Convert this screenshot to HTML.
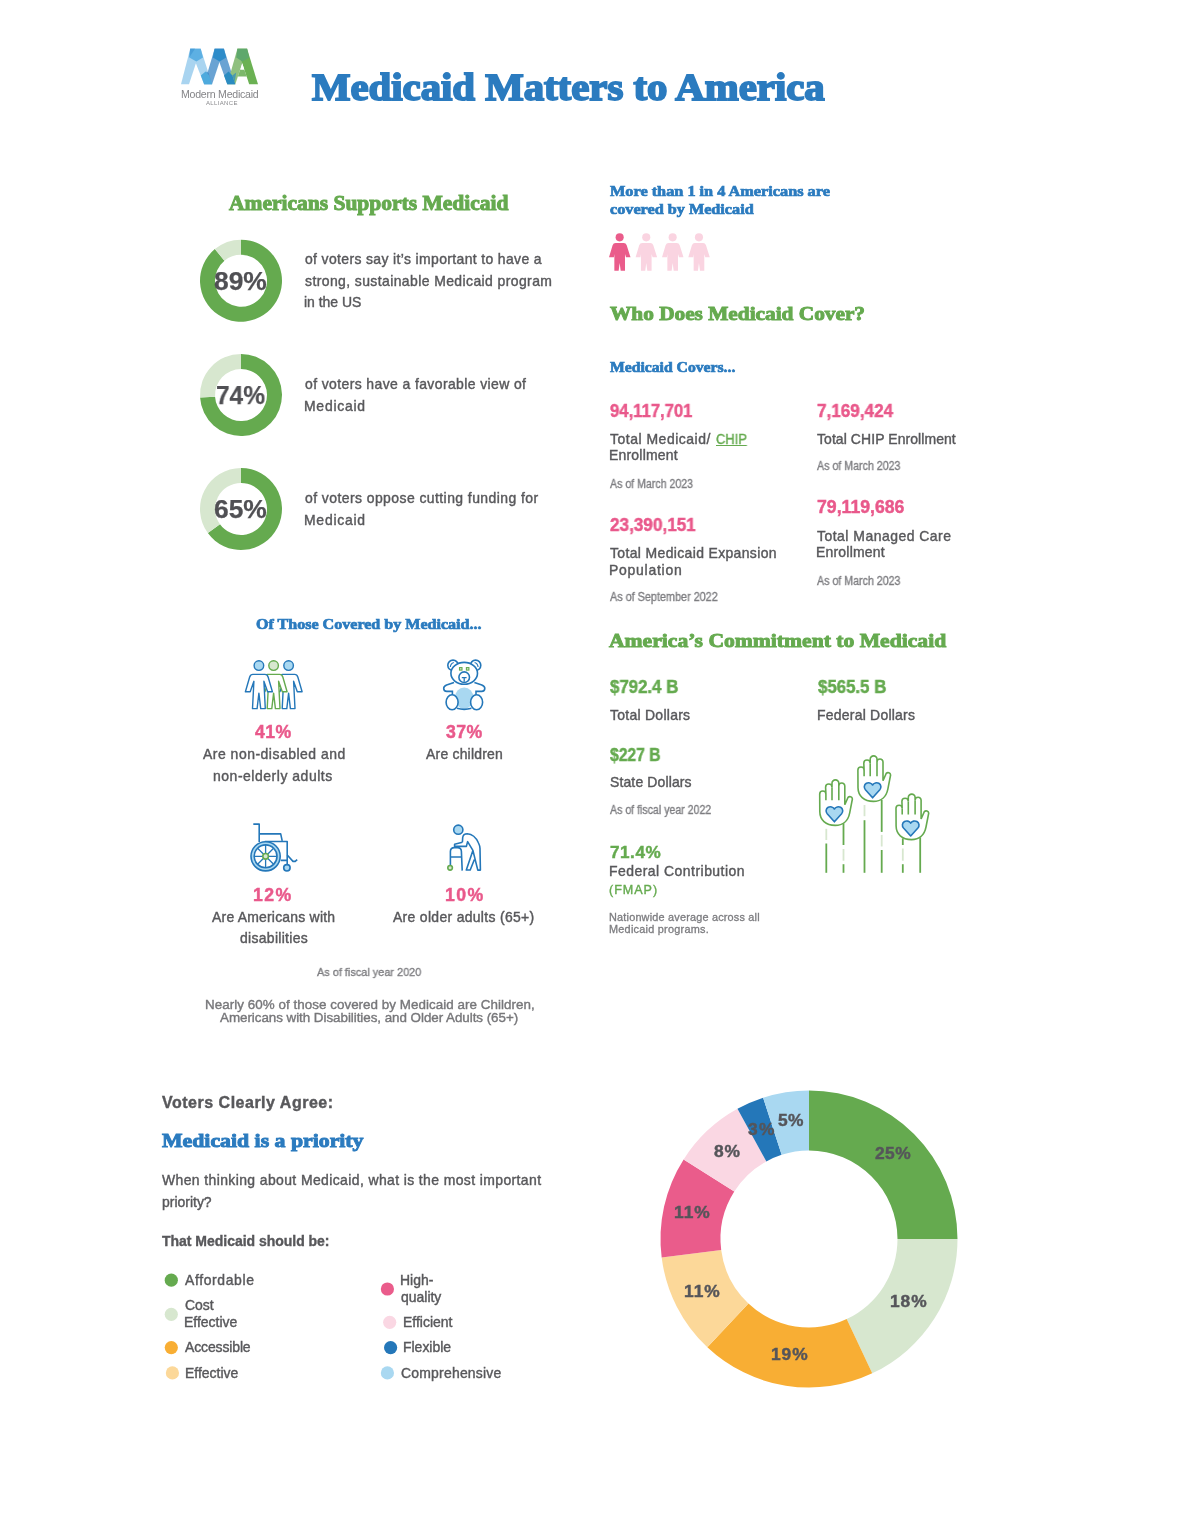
<!DOCTYPE html>
<html><head><meta charset="utf-8"><title>Medicaid Matters to America</title>
<style>
html,body{margin:0;padding:0;background:#fff;}
body{width:1187px;height:1536px;position:relative;overflow:hidden;}
.t{position:absolute;white-space:nowrap;will-change:transform;}
svg.bg{position:absolute;left:0;top:0;}
</style></head><body>
<svg class="bg" width="1187" height="1536" viewBox="0 0 1187 1536">
<path d="M241.00,239.70A41,41 0 1 1 214.87,249.11L224.43,260.67A26,26 0 1 0 241.00,254.70Z" fill="#65aa4f"/>
<path d="M214.87,249.11A41,41 0 0 1 241.00,239.70L241.00,254.70A26,26 0 0 0 224.43,260.67Z" fill="#d7e7cf"/>
<path d="M241.00,354.00A41,41 0 1 1 200.08,397.57L215.05,396.63A26,26 0 1 0 241.00,369.00Z" fill="#65aa4f"/>
<path d="M200.08,397.57A41,41 0 0 1 241.00,354.00L241.00,369.00A26,26 0 0 0 215.05,396.63Z" fill="#d7e7cf"/>
<path d="M241.00,468.00A41,41 0 1 1 207.83,533.10L219.97,524.28A26,26 0 1 0 241.00,483.00Z" fill="#65aa4f"/>
<path d="M207.83,533.10A41,41 0 0 1 241.00,468.00L241.00,483.00A26,26 0 0 0 219.97,524.28Z" fill="#d7e7cf"/>
<path d="M809.00,1090.50A148.5,148.5 0 0 1 957.50,1239.00L897.50,1239.00A88.5,88.5 0 0 0 809.00,1150.50Z" fill="#65aa4f"/>
<path d="M957.50,1239.00A148.5,148.5 0 0 1 872.23,1373.37L846.68,1319.08A88.5,88.5 0 0 0 897.50,1239.00Z" fill="#d7e7cf"/>
<path d="M872.23,1373.37A148.5,148.5 0 0 1 707.34,1347.25L748.42,1303.51A88.5,88.5 0 0 0 846.68,1319.08Z" fill="#f8ae34"/>
<path d="M707.34,1347.25A148.5,148.5 0 0 1 661.67,1257.61L721.20,1250.09A88.5,88.5 0 0 0 748.42,1303.51Z" fill="#fcd899"/>
<path d="M661.67,1257.61A148.5,148.5 0 0 1 683.62,1159.43L734.28,1191.58A88.5,88.5 0 0 0 721.20,1250.09Z" fill="#ea5c8b"/>
<path d="M683.62,1159.43A148.5,148.5 0 0 1 737.46,1108.87L766.36,1161.45A88.5,88.5 0 0 0 734.28,1191.58Z" fill="#fad7e3"/>
<path d="M737.46,1108.87A148.5,148.5 0 0 1 763.11,1097.77L781.65,1154.83A88.5,88.5 0 0 0 766.36,1161.45Z" fill="#2477b9"/>
<path d="M763.11,1097.77A148.5,148.5 0 0 1 809.00,1090.50L809.00,1150.50A88.5,88.5 0 0 0 781.65,1154.83Z" fill="#a9d8f1"/>
<!-- logo -->
<g>
<polygon points="181,84.2 189,84.2 200.7,48.8 190.2,48.8" fill="#a9d4f0"/>
<polygon points="190.2,48.8 200.7,48.8 212.1,84.2 204.1,84.2" fill="#a9d4f0"/>
<polygon points="204.1,84.2 212.1,84.2 223.9,48.8 214.6,48.8" fill="#6aa3d3"/>
<polygon points="214.6,48.8 223.9,48.8 235.3,84.2 227.3,84.2" fill="#6aa3d3"/>
<polygon points="227.3,84.2 235.3,84.2 247.1,48.8 237.4,48.8" fill="#90c07f"/>
<polygon points="237.4,48.8 247.1,48.8 258,84.2 249.2,84.2" fill="#6bb153"/>
<polygon points="190.2,48.8 200.7,48.8 203,57.5 196.4,61.5 189.3,57.5" fill="#5db0e3"/>
<polygon points="200.8,75.5 205.6,71.5 209.2,75.5 212.1,84.2 204.1,84.2" fill="#4eaadd"/>
<polygon points="214.6,48.8 223.9,48.8 226.2,57.5 219.6,61.5 212.8,57.5" fill="#2e8cc9"/>
<polygon points="224,75.5 228.6,71.5 232.4,75.5 235.3,84.2 227.3,84.2" fill="#2b8cc1"/>
<polygon points="237.4,48.8 247.1,48.8 249.2,57.5 242.4,61.5 236.2,57.5" fill="#5fa86c"/>
<polygon points="190.2,48.8 195,48.8 189.3,57.5" fill="#4a9fd9"/>
<polygon points="205.6,71.5 209.2,75.5 211.2,81.5 208.6,72.8" fill="#3f8fce"/>
<polygon points="232.4,75.5 236.2,72.5 234.6,82" fill="#4a9aae"/>
<polygon points="240.2,69.5 244.3,69.5 246.7,76.6 237.8,76.6" fill="#7cb86a"/>
<polygon points="240.4,69.5 244.2,69.5 242.3,63.2" fill="#fff"/>
</g>
<!-- people -->
<g id="ppl">
<defs><g id="kid"><circle cx="10.66" cy="4.15" r="4.05"/><path d="M6.6,9.7 L14.7,9.7 Q16.9,9.7 17.7,12 L21.5,24.1 L17,24.1 L16,20.8 L16,37.5 L11.7,37.5 L10.66,29.7 L9.65,37.5 L5.35,37.5 L5.35,20.8 L4.85,24.1 L0,24.1 L3.6,12 Q4.4,9.7 6.6,9.7 Z"/></g></defs>
<use href="#kid" x="609" y="233.2" fill="#ea5c8b"/>
<use href="#kid" x="635.6" y="233.2" fill="#fad4e1"/>
<use href="#kid" x="662" y="233.2" fill="#fad4e1"/>
<use href="#kid" x="688.3" y="233.2" fill="#fad4e1"/>
</g>
<!-- 3 persons -->
<defs><path id="prs" d="M-6.4,43 L-1.8,43 L0,27.5 L1.8,43 L6.4,43 L5,15.7 L8.7,26.2 L13.5,26.2 L9.3,11.6 Q8.4,8.8 6,8.8 L-6,8.8 Q-8.4,8.8 -9.3,11.6 L-13.5,26.2 L-8.7,26.2 L-5,15.7 Z"/></defs>
<g stroke-width="1.4" stroke-linejoin="round">
<g transform="translate(288.6,665.6)" stroke="#2477b9"><use href="#prs" fill="#fff"/><circle r="4.8" fill="#a9d8f1"/></g>
<g transform="translate(273.6,665.6)" stroke="#65aa4f"><use href="#prs" fill="#fff"/><circle r="4.8" fill="#d7e7cf"/></g>
<g transform="translate(258.9,665.6)" stroke="#2477b9"><use href="#prs" fill="#fff"/><circle r="4.8" fill="#a9d8f1"/></g>
</g>
<!-- teddy -->
<g stroke="#2477b9" stroke-width="1.6" fill="#fff">
<path d="M454,682.6 L446.6,685 Q443.7,686.2 443.7,688.3 Q443.7,691.4 446.8,691.4 L452.4,691.4 L452.4,695 M474.4,682.6 L481.8,685 Q484.8,686.2 484.8,688.3 Q484.8,691.4 481.6,691.4 L476,691.4 L476,695" fill="none"/>
<ellipse cx="464.2" cy="698.2" rx="9.4" ry="10.8" fill="#a9d8f1" stroke="none"/>
<path d="M457,708.3 Q464.2,710.5 471.4,708.3" fill="none"/>
<ellipse cx="452.1" cy="702.2" rx="6" ry="7.5"/>
<ellipse cx="476.6" cy="702.2" rx="6" ry="7.5"/>
<circle cx="453" cy="665.3" r="5.2"/>
<circle cx="475.6" cy="665.3" r="5.2"/>
<ellipse cx="464.2" cy="673.3" rx="13.3" ry="10.9"/>
<path d="M450.3,667 Q450.6,663.4 453.8,662.4 M478.1,667 Q477.8,663.4 474.6,662.4" fill="none" stroke-width="1.1"/>
<circle cx="464.2" cy="677.2" r="5.3"/>
<path d="M461.8,677.6 L466.6,677.6 M464.2,677.6 L464.2,681.8" fill="none" stroke-width="1.3"/>
<rect x="459.5" y="667.6" width="2.5" height="2.5" fill="#d7e7cf" stroke="#65aa4f" stroke-width="1.1"/>
<rect x="466.4" y="667.6" width="2.5" height="2.5" fill="#d7e7cf" stroke="#65aa4f" stroke-width="1.1"/>
</g>
<!-- wheelchair -->
<g stroke="#2477b9" stroke-width="1.6" fill="none" stroke-linejoin="round">
<polyline points="253.3,824.1 259.2,824.1 259.2,842.1"/>
<polyline points="259.2,833.9 280.7,833.9 282.2,840.9"/>
<polyline points="264.8,841.5 287.2,841.5 287.2,860.4 280.7,860.4"/>
<polyline points="287.2,855 293,861.4 295.2,861.4 297.2,859.6"/>
<line x1="287.2" y1="860.4" x2="287.2" y2="864.5"/>
<circle cx="265.6" cy="856.3" r="13" stroke="#a9d8f1" stroke-width="3"/>
<circle cx="265.6" cy="856.3" r="14.6"/>
<circle cx="265.6" cy="856.3" r="11.4"/>
<path d="M265.6,845 L265.6,867.6 M254.3,856.3 L276.9,856.3 M257.6,848.3 L273.6,864.3 M273.6,848.3 L257.6,864.3" stroke-width="1.3"/>
<circle cx="265.6" cy="856.3" r="2.8" fill="#d7e7cf" stroke="#65aa4f"/>
<circle cx="286.9" cy="867.8" r="3.2" fill="#a9d8f1"/>
</g>
<!-- walker -->
<g stroke="#2477b9" stroke-width="1.6" fill="none" stroke-linejoin="round">
<circle cx="458.3" cy="829.7" r="4.6" fill="#a9d8f1"/>
<path d="M462.4,842.3 L462.7,837.5 Q463.2,833.8 467.3,833.8 Q474.5,834.2 478.5,843 Q480,846 480,848.5 L480.4,870.1 L477.8,870.1 L472.9,850.4 L467.6,841.6 L466.4,846.4 L454.6,846.4 L454.6,844.2 L462.4,842.3 M472.9,850.4 L466.3,870 L470.2,870 L474.4,859.5"/>
<path d="M450.4,865 L450.4,851.6 Q450.4,847.6 454.4,847.6 L457.4,847.6 Q461.4,847.6 461.4,851.6 L462.2,870.6 M450.4,857 L461.6,857"/>
<circle cx="450.1" cy="867.8" r="2.3" fill="#d7e7cf" stroke="#65aa4f"/>
</g>
<!-- hands -->
<defs><g id="hand">
<path d="M1,14.3 A3.1,3.1 0 0 1 7.2,14.3 L6.9,7.4 A3.2,3.2 0 0 1 13.3,7.4 L13.3,3.5 A3.4,3.4 0 0 1 20.1,3.5 L20.1,6.2 A3,3 0 0 1 26.1,6.2 L26.1,25 L29.3,17.6 A2.6,2.6 0 0 1 33.7,19.2 L31,33 C29.5,41 24,45.6 16.5,45.6 C7,45.6 1.2,40 1.1,32 Z" fill="#fff" stroke="#65aa4f" stroke-width="1.6"/>
<path d="M7.2,14.3 L7.2,20.5 M13.3,7.4 L13.3,20.5 M20.1,6.2 L20.1,20.5" fill="none" stroke="#65aa4f" stroke-width="1.6"/>
<path d="M15.7,29.2 C14.5,27 11.5,26.5 9.5,27.5 C7,29 6.8,32 8.5,34 L15.7,42 L22.9,34 C24.6,32 24.4,29 21.9,27.5 C19.9,26.5 16.9,27 15.7,29.2 Z" fill="#a9d8f1" stroke="#2477b9" stroke-width="1.6" stroke-linejoin="round"/>
</g></defs>
<use href="#hand" x="818.7" y="779.8"/>
<use href="#hand" x="856.9" y="755.8"/>
<use href="#hand" x="895" y="794"/>
<g stroke-width="1.8">
<line x1="826.3" y1="828.8" x2="826.3" y2="840" stroke="#d7e7cf"/>
<line x1="826.3" y1="843.5" x2="826.3" y2="872.8" stroke="#65aa4f"/>
<line x1="843.5" y1="823.3" x2="843.5" y2="845" stroke="#65aa4f"/>
<line x1="843.5" y1="849" x2="843.5" y2="860.7" stroke="#d7e7cf"/>
<line x1="843.5" y1="864.2" x2="843.5" y2="872.8" stroke="#65aa4f"/>
<line x1="864.5" y1="805" x2="864.5" y2="816.2" stroke="#d7e7cf"/>
<line x1="864.5" y1="820.2" x2="864.5" y2="872.8" stroke="#65aa4f"/>
<line x1="881.7" y1="800" x2="881.7" y2="831.9" stroke="#65aa4f"/>
<line x1="881.7" y1="834.9" x2="881.7" y2="846.5" stroke="#d7e7cf"/>
<line x1="881.7" y1="850" x2="881.7" y2="872.8" stroke="#65aa4f"/>
<line x1="902.8" y1="838.4" x2="902.8" y2="845" stroke="#65aa4f"/>
<line x1="902.8" y1="848.5" x2="902.8" y2="860.7" stroke="#d7e7cf"/>
<line x1="902.8" y1="864.2" x2="902.8" y2="872.8" stroke="#65aa4f"/>
<line x1="920.2" y1="837.4" x2="920.2" y2="872.8" stroke="#65aa4f"/>
</g>
<!-- legend dots -->
<circle cx="171.3" cy="1280.2" r="6.6" fill="#65aa4f"/>
<circle cx="171.3" cy="1314.3" r="6.6" fill="#d7e7cf"/>
<circle cx="171.3" cy="1347.6" r="6.6" fill="#f8ae34"/>
<circle cx="172.4" cy="1372.9" r="6.6" fill="#fcd899"/>
<circle cx="387.4" cy="1289" r="6.6" fill="#ea5c8b"/>
<circle cx="389.7" cy="1322.3" r="6.6" fill="#fad7e3"/>
<circle cx="390.6" cy="1347.6" r="6.6" fill="#2477b9"/>
<circle cx="387.4" cy="1372.9" r="6.6" fill="#a9d8f1"/>

</svg>
<div class="t" style="left:180.5px;top:89px;font-family:'Liberation Sans',sans-serif;font-size:10.6px;line-height:11px;letter-spacing:-0.25px;color:#858588">Modern Medicaid</div>
<div class="t" style="left:206px;top:99.5px;font-family:'Liberation Sans',sans-serif;font-size:6px;line-height:7px;letter-spacing:0.35px;color:#8a8a8d">ALLIANCE</div>
<div class="t" style="left:214.49px;top:267.63px;font-family:'Liberation Sans',sans-serif;font-weight:bold;font-size:26.20px;line-height:26.20px;letter-spacing:0.000px;color:#505054;-webkit-text-stroke:0.25px #505054;transform:scaleX(1.0077);transform-origin:0 0;">89%</div>
<div class="t" style="left:216.20px;top:381.83px;font-family:'Liberation Sans',sans-serif;font-weight:bold;font-size:26.20px;line-height:26.20px;letter-spacing:0.000px;color:#505054;-webkit-text-stroke:0.25px #505054;transform:scaleX(0.9337);transform-origin:0 0;">74%</div>
<div class="t" style="left:214.49px;top:495.93px;font-family:'Liberation Sans',sans-serif;font-weight:bold;font-size:26.20px;line-height:26.20px;letter-spacing:0.000px;color:#505054;-webkit-text-stroke:0.25px #505054;transform:scaleX(1.0077);transform-origin:0 0;">65%</div>
<div class="t" style="left:311.50px;top:69.19px;font-family:'Liberation Serif',serif;font-weight:bold;font-size:37.02px;line-height:37.02px;letter-spacing:0.000px;color:#2b7bbf;-webkit-text-stroke:1.79px #2b7bbf;transform:scaleX(1.1011);transform-origin:0 0;">Medicaid Matters to America</div>
<div class="t" style="left:228.80px;top:192.81px;font-family:'Liberation Serif',serif;font-weight:bold;font-size:20.36px;line-height:20.36px;letter-spacing:0.000px;color:#65aa4f;-webkit-text-stroke:0.98px #65aa4f;transform:scaleX(1.0556);transform-origin:0 0;">Americans Supports Medicaid</div>
<div class="t" style="left:305.40px;top:252.93px;font-family:'Liberation Sans',sans-serif;font-weight:normal;font-size:13.96px;line-height:13.96px;letter-spacing:0.364px;color:#58585b;-webkit-text-stroke:0.41px #58585b;">of voters say it’s important to have a</div>
<div class="t" style="left:305.40px;top:274.73px;font-family:'Liberation Sans',sans-serif;font-weight:normal;font-size:13.96px;line-height:13.96px;letter-spacing:0.408px;color:#58585b;-webkit-text-stroke:0.41px #58585b;">strong, sustainable Medicaid program</div>
<div class="t" style="left:304.40px;top:295.93px;font-family:'Liberation Sans',sans-serif;font-weight:normal;font-size:13.96px;line-height:13.96px;letter-spacing:0.000px;color:#58585b;-webkit-text-stroke:0.41px #58585b;">in the US</div>
<div class="t" style="left:305.40px;top:378.43px;font-family:'Liberation Sans',sans-serif;font-weight:normal;font-size:13.96px;line-height:13.96px;letter-spacing:0.398px;color:#58585b;-webkit-text-stroke:0.41px #58585b;">of voters have a favorable view of</div>
<div class="t" style="left:304.40px;top:399.83px;font-family:'Liberation Sans',sans-serif;font-weight:normal;font-size:13.96px;line-height:13.96px;letter-spacing:0.750px;color:#58585b;-webkit-text-stroke:0.41px #58585b;">Medicaid</div>
<div class="t" style="left:305.40px;top:492.13px;font-family:'Liberation Sans',sans-serif;font-weight:normal;font-size:13.96px;line-height:13.96px;letter-spacing:0.432px;color:#58585b;-webkit-text-stroke:0.41px #58585b;">of voters oppose cutting funding for</div>
<div class="t" style="left:304.40px;top:514.03px;font-family:'Liberation Sans',sans-serif;font-weight:normal;font-size:13.96px;line-height:13.96px;letter-spacing:0.750px;color:#58585b;-webkit-text-stroke:0.41px #58585b;">Medicaid</div>
<div class="t" style="left:255.70px;top:617.17px;font-family:'Liberation Serif',serif;font-weight:bold;font-size:14.24px;line-height:14.24px;letter-spacing:0.000px;color:#2b7bbf;-webkit-text-stroke:0.69px #2b7bbf;transform:scaleX(1.1281);transform-origin:0 0;">Of Those Covered by Medicaid...</div>
<div class="t" style="left:255.35px;top:724.05px;font-family:'Liberation Sans',sans-serif;font-weight:bold;font-size:17.67px;line-height:17.67px;letter-spacing:0.397px;color:#e9598b;-webkit-text-stroke:0.46px #e9598b;">41%</div>
<div class="t" style="left:202.60px;top:747.53px;font-family:'Liberation Sans',sans-serif;font-weight:normal;font-size:13.96px;line-height:13.96px;letter-spacing:0.506px;color:#58585b;-webkit-text-stroke:0.41px #58585b;">Are non-disabled and</div>
<div class="t" style="left:213.40px;top:769.73px;font-family:'Liberation Sans',sans-serif;font-weight:normal;font-size:13.96px;line-height:13.96px;letter-spacing:0.535px;color:#58585b;-webkit-text-stroke:0.41px #58585b;">non-elderly adults</div>
<div class="t" style="left:446.05px;top:724.05px;font-family:'Liberation Sans',sans-serif;font-weight:bold;font-size:17.67px;line-height:17.67px;letter-spacing:0.397px;color:#e9598b;-webkit-text-stroke:0.46px #e9598b;">37%</div>
<div class="t" style="left:426.00px;top:747.53px;font-family:'Liberation Sans',sans-serif;font-weight:normal;font-size:13.96px;line-height:13.96px;letter-spacing:0.212px;color:#58585b;-webkit-text-stroke:0.41px #58585b;">Are children</div>
<div class="t" style="left:253.35px;top:887.45px;font-family:'Liberation Sans',sans-serif;font-weight:bold;font-size:17.67px;line-height:17.67px;letter-spacing:1.397px;color:#e9598b;-webkit-text-stroke:0.46px #e9598b;">12%</div>
<div class="t" style="left:212.00px;top:911.13px;font-family:'Liberation Sans',sans-serif;font-weight:normal;font-size:13.96px;line-height:13.96px;letter-spacing:0.213px;color:#58585b;-webkit-text-stroke:0.41px #58585b;">Are Americans with</div>
<div class="t" style="left:239.55px;top:932.33px;font-family:'Liberation Sans',sans-serif;font-weight:normal;font-size:13.96px;line-height:13.96px;letter-spacing:0.304px;color:#58585b;-webkit-text-stroke:0.41px #58585b;">disabilities</div>
<div class="t" style="left:445.25px;top:887.45px;font-family:'Liberation Sans',sans-serif;font-weight:bold;font-size:17.67px;line-height:17.67px;letter-spacing:1.397px;color:#e9598b;-webkit-text-stroke:0.46px #e9598b;">10%</div>
<div class="t" style="left:393.40px;top:911.13px;font-family:'Liberation Sans',sans-serif;font-weight:normal;font-size:13.96px;line-height:13.96px;letter-spacing:0.315px;color:#58585b;-webkit-text-stroke:0.41px #58585b;">Are older adults (65+)</div>
<div class="t" style="left:316.85px;top:967.28px;font-family:'Liberation Sans',sans-serif;font-weight:normal;font-size:11.59px;line-height:11.59px;letter-spacing:0.000px;color:#7d7d80;-webkit-text-stroke:0.34px #7d7d80;transform:scaleX(0.9416);transform-origin:0 0;">As of fiscal year 2020</div>
<div class="t" style="left:205.30px;top:997.51px;font-family:'Liberation Sans',sans-serif;font-weight:normal;font-size:13.40px;line-height:13.40px;letter-spacing:0.043px;color:#77777a;-webkit-text-stroke:0.39px #77777a;">Nearly 60% of those covered by Medicaid are Children,</div>
<div class="t" style="left:220.00px;top:1011.01px;font-family:'Liberation Sans',sans-serif;font-weight:normal;font-size:13.40px;line-height:13.40px;letter-spacing:-0.043px;color:#77777a;-webkit-text-stroke:0.39px #77777a;">Americans with Disabilities, and Older Adults (65+)</div>
<div class="t" style="left:609.70px;top:183.97px;font-family:'Liberation Serif',serif;font-weight:bold;font-size:14.24px;line-height:14.24px;letter-spacing:0.000px;color:#2b7bbf;-webkit-text-stroke:0.69px #2b7bbf;transform:scaleX(1.1427);transform-origin:0 0;">More than 1 in 4 Americans are</div>
<div class="t" style="left:609.70px;top:201.57px;font-family:'Liberation Serif',serif;font-weight:bold;font-size:14.24px;line-height:14.24px;letter-spacing:0.000px;color:#2b7bbf;-webkit-text-stroke:0.69px #2b7bbf;transform:scaleX(1.1380);transform-origin:0 0;">covered by Medicaid</div>
<div class="t" style="left:609.70px;top:305.45px;font-family:'Liberation Serif',serif;font-weight:bold;font-size:18.79px;line-height:18.79px;letter-spacing:0.000px;color:#65aa4f;-webkit-text-stroke:0.91px #65aa4f;transform:scaleX(1.1343);transform-origin:0 0;">Who Does Medicaid Cover?</div>
<div class="t" style="left:609.80px;top:360.17px;font-family:'Liberation Serif',serif;font-weight:bold;font-size:14.24px;line-height:14.24px;letter-spacing:0.000px;color:#2b7bbf;-webkit-text-stroke:0.69px #2b7bbf;transform:scaleX(1.1011);transform-origin:0 0;">Medicaid Covers...</div>
<div class="t" style="left:610.00px;top:403.35px;font-family:'Liberation Sans',sans-serif;font-weight:bold;font-size:17.67px;line-height:17.67px;letter-spacing:0.000px;color:#e9598b;-webkit-text-stroke:0.46px #e9598b;transform:scaleX(0.9436);transform-origin:0 0;">94,117,701</div>
<div class="t" style="left:610.00px;top:432.53px;font-family:'Liberation Sans',sans-serif;font-weight:normal;font-size:13.96px;line-height:13.96px;letter-spacing:0.521px;color:#58585b;-webkit-text-stroke:0.41px #58585b;">Total Medicaid/</div>
<div class="t" style="left:716.00px;top:432.53px;font-family:'Liberation Sans',sans-serif;font-weight:normal;font-size:13.96px;line-height:13.96px;letter-spacing:0.000px;color:#65aa4f;-webkit-text-stroke:0.41px #65aa4f;transform:scaleX(0.9277);transform-origin:0 0;text-decoration:underline;">CHIP</div>
<div class="t" style="left:609.00px;top:449.43px;font-family:'Liberation Sans',sans-serif;font-weight:normal;font-size:13.96px;line-height:13.96px;letter-spacing:0.214px;color:#58585b;-webkit-text-stroke:0.41px #58585b;">Enrollment</div>
<div class="t" style="left:610.00px;top:478.74px;font-family:'Liberation Sans',sans-serif;font-weight:normal;font-size:11.87px;line-height:11.87px;letter-spacing:0.000px;color:#7d7d80;-webkit-text-stroke:0.35px #7d7d80;transform:scaleX(0.8934);transform-origin:0 0;">As of March 2023</div>
<div class="t" style="left:610.00px;top:516.85px;font-family:'Liberation Sans',sans-serif;font-weight:bold;font-size:17.67px;line-height:17.67px;letter-spacing:0.000px;color:#e9598b;-webkit-text-stroke:0.46px #e9598b;transform:scaleX(0.9706);transform-origin:0 0;">23,390,151</div>
<div class="t" style="left:610.00px;top:546.83px;font-family:'Liberation Sans',sans-serif;font-weight:normal;font-size:13.96px;line-height:13.96px;letter-spacing:0.362px;color:#58585b;-webkit-text-stroke:0.41px #58585b;">Total Medicaid Expansion</div>
<div class="t" style="left:609.00px;top:564.03px;font-family:'Liberation Sans',sans-serif;font-weight:normal;font-size:13.96px;line-height:13.96px;letter-spacing:0.745px;color:#58585b;-webkit-text-stroke:0.41px #58585b;">Population</div>
<div class="t" style="left:610.00px;top:592.44px;font-family:'Liberation Sans',sans-serif;font-weight:normal;font-size:11.87px;line-height:11.87px;letter-spacing:0.000px;color:#7d7d80;-webkit-text-stroke:0.35px #7d7d80;transform:scaleX(0.9125);transform-origin:0 0;">As of September 2022</div>
<div class="t" style="left:817.40px;top:402.95px;font-family:'Liberation Sans',sans-serif;font-weight:bold;font-size:17.67px;line-height:17.67px;letter-spacing:0.000px;color:#e9598b;-webkit-text-stroke:0.46px #e9598b;transform:scaleX(0.9690);transform-origin:0 0;">7,169,424</div>
<div class="t" style="left:817.40px;top:433.03px;font-family:'Liberation Sans',sans-serif;font-weight:normal;font-size:13.96px;line-height:13.96px;letter-spacing:0.085px;color:#58585b;-webkit-text-stroke:0.41px #58585b;">Total CHIP Enrollment</div>
<div class="t" style="left:817.40px;top:461.44px;font-family:'Liberation Sans',sans-serif;font-weight:normal;font-size:11.87px;line-height:11.87px;letter-spacing:0.000px;color:#7d7d80;-webkit-text-stroke:0.35px #7d7d80;transform:scaleX(0.8978);transform-origin:0 0;">As of March 2023</div>
<div class="t" style="left:817.40px;top:499.45px;font-family:'Liberation Sans',sans-serif;font-weight:bold;font-size:17.67px;line-height:17.67px;letter-spacing:0.000px;color:#e9598b;-webkit-text-stroke:0.46px #e9598b;transform:scaleX(0.9999);transform-origin:0 0;">79,119,686</div>
<div class="t" style="left:817.40px;top:530.03px;font-family:'Liberation Sans',sans-serif;font-weight:normal;font-size:13.96px;line-height:13.96px;letter-spacing:0.489px;color:#58585b;-webkit-text-stroke:0.41px #58585b;">Total Managed Care</div>
<div class="t" style="left:816.40px;top:546.43px;font-family:'Liberation Sans',sans-serif;font-weight:normal;font-size:13.96px;line-height:13.96px;letter-spacing:0.214px;color:#58585b;-webkit-text-stroke:0.41px #58585b;">Enrollment</div>
<div class="t" style="left:817.40px;top:575.64px;font-family:'Liberation Sans',sans-serif;font-weight:normal;font-size:11.87px;line-height:11.87px;letter-spacing:0.000px;color:#7d7d80;-webkit-text-stroke:0.35px #7d7d80;transform:scaleX(0.8978);transform-origin:0 0;">As of March 2023</div>
<div class="t" style="left:609.00px;top:631.01px;font-family:'Liberation Serif',serif;font-weight:bold;font-size:19.08px;line-height:19.08px;letter-spacing:0.000px;color:#65aa4f;-webkit-text-stroke:0.92px #65aa4f;transform:scaleX(1.1331);transform-origin:0 0;">America’s Commitment to Medicaid</div>
<div class="t" style="left:610.00px;top:678.73px;font-family:'Liberation Sans',sans-serif;font-weight:bold;font-size:17.81px;line-height:17.81px;letter-spacing:0.000px;color:#65aa4f;-webkit-text-stroke:0.46px #65aa4f;transform:scaleX(0.9451);transform-origin:0 0;">$792.4 B</div>
<div class="t" style="left:610.00px;top:708.53px;font-family:'Liberation Sans',sans-serif;font-weight:normal;font-size:13.96px;line-height:13.96px;letter-spacing:0.275px;color:#58585b;-webkit-text-stroke:0.41px #58585b;">Total Dollars</div>
<div class="t" style="left:817.70px;top:678.73px;font-family:'Liberation Sans',sans-serif;font-weight:bold;font-size:17.81px;line-height:17.81px;letter-spacing:0.000px;color:#65aa4f;-webkit-text-stroke:0.46px #65aa4f;transform:scaleX(0.9451);transform-origin:0 0;">$565.5 B</div>
<div class="t" style="left:816.70px;top:708.63px;font-family:'Liberation Sans',sans-serif;font-weight:normal;font-size:13.96px;line-height:13.96px;letter-spacing:0.236px;color:#58585b;-webkit-text-stroke:0.41px #58585b;">Federal Dollars</div>
<div class="t" style="left:610.00px;top:747.03px;font-family:'Liberation Sans',sans-serif;font-weight:bold;font-size:17.81px;line-height:17.81px;letter-spacing:0.000px;color:#65aa4f;-webkit-text-stroke:0.46px #65aa4f;transform:scaleX(0.8808);transform-origin:0 0;">$227 B</div>
<div class="t" style="left:610.00px;top:776.23px;font-family:'Liberation Sans',sans-serif;font-weight:normal;font-size:13.96px;line-height:13.96px;letter-spacing:0.139px;color:#58585b;-webkit-text-stroke:0.41px #58585b;">State Dollars</div>
<div class="t" style="left:610.00px;top:804.74px;font-family:'Liberation Sans',sans-serif;font-weight:normal;font-size:11.87px;line-height:11.87px;letter-spacing:0.000px;color:#7d7d80;-webkit-text-stroke:0.35px #7d7d80;transform:scaleX(0.8928);transform-origin:0 0;">As of fiscal year 2022</div>
<div class="t" style="left:610.00px;top:844.38px;font-family:'Liberation Sans',sans-serif;font-weight:bold;font-size:17.11px;line-height:17.11px;letter-spacing:0.537px;color:#65aa4f;-webkit-text-stroke:0.44px #65aa4f;">71.4%</div>
<div class="t" style="left:609.00px;top:864.83px;font-family:'Liberation Sans',sans-serif;font-weight:normal;font-size:13.96px;line-height:13.96px;letter-spacing:0.480px;color:#58585b;-webkit-text-stroke:0.41px #58585b;">Federal Contribution</div>
<div class="t" style="left:609.00px;top:883.74px;font-family:'Liberation Sans',sans-serif;font-weight:normal;font-size:12.57px;line-height:12.57px;letter-spacing:0.977px;color:#65aa4f;-webkit-text-stroke:0.37px #65aa4f;">(FMAP)</div>
<div class="t" style="left:609.00px;top:911.68px;font-family:'Liberation Sans',sans-serif;font-weight:normal;font-size:10.89px;line-height:10.89px;letter-spacing:0.198px;color:#7d7d80;-webkit-text-stroke:0.32px #7d7d80;">Nationwide average across all</div>
<div class="t" style="left:609.00px;top:924.28px;font-family:'Liberation Sans',sans-serif;font-weight:normal;font-size:10.89px;line-height:10.89px;letter-spacing:0.253px;color:#7d7d80;-webkit-text-stroke:0.32px #7d7d80;">Medicaid programs.</div>
<div class="t" style="left:162.20px;top:1095.20px;font-family:'Liberation Sans',sans-serif;font-weight:bold;font-size:15.99px;line-height:15.99px;letter-spacing:0.511px;color:#58585b;-webkit-text-stroke:0.41px #58585b;">Voters Clearly Agree:</div>
<div class="t" style="left:161.60px;top:1130.80px;font-family:'Liberation Serif',serif;font-weight:bold;font-size:19.79px;line-height:19.79px;letter-spacing:0.000px;color:#2b7bbf;-webkit-text-stroke:0.96px #2b7bbf;transform:scaleX(1.1014);transform-origin:0 0;">Medicaid is a priority</div>
<div class="t" style="left:162.00px;top:1174.43px;font-family:'Liberation Sans',sans-serif;font-weight:normal;font-size:13.96px;line-height:13.96px;letter-spacing:0.391px;color:#58585b;-webkit-text-stroke:0.41px #58585b;">When thinking about Medicaid, what is the most important</div>
<div class="t" style="left:162.00px;top:1195.93px;font-family:'Liberation Sans',sans-serif;font-weight:normal;font-size:13.96px;line-height:13.96px;letter-spacing:0.000px;color:#58585b;-webkit-text-stroke:0.41px #58585b;">priority?</div>
<div class="t" style="left:162.00px;top:1233.80px;font-family:'Liberation Sans',sans-serif;font-weight:bold;font-size:14.03px;line-height:14.03px;letter-spacing:-0.030px;color:#58585b;-webkit-text-stroke:0.36px #58585b;">That Medicaid should be:</div>
<div class="t" style="left:185.00px;top:1274.03px;font-family:'Liberation Sans',sans-serif;font-weight:normal;font-size:13.96px;line-height:13.96px;letter-spacing:0.627px;color:#58585b;-webkit-text-stroke:0.41px #58585b;">Affordable</div>
<div class="t" style="left:185.00px;top:1299.23px;font-family:'Liberation Sans',sans-serif;font-weight:normal;font-size:13.96px;line-height:13.96px;letter-spacing:0.000px;color:#58585b;-webkit-text-stroke:0.41px #58585b;">Cost</div>
<div class="t" style="left:184.00px;top:1316.43px;font-family:'Liberation Sans',sans-serif;font-weight:normal;font-size:13.96px;line-height:13.96px;letter-spacing:0.000px;color:#58585b;-webkit-text-stroke:0.41px #58585b;">Effective</div>
<div class="t" style="left:185.00px;top:1341.43px;font-family:'Liberation Sans',sans-serif;font-weight:normal;font-size:13.96px;line-height:13.96px;letter-spacing:-0.119px;color:#58585b;-webkit-text-stroke:0.41px #58585b;">Accessible</div>
<div class="t" style="left:184.70px;top:1366.63px;font-family:'Liberation Sans',sans-serif;font-weight:normal;font-size:13.96px;line-height:13.96px;letter-spacing:0.000px;color:#58585b;-webkit-text-stroke:0.41px #58585b;">Effective</div>
<div class="t" style="left:399.70px;top:1274.03px;font-family:'Liberation Sans',sans-serif;font-weight:normal;font-size:13.96px;line-height:13.96px;letter-spacing:0.000px;color:#58585b;-webkit-text-stroke:0.41px #58585b;">High-</div>
<div class="t" style="left:400.70px;top:1290.83px;font-family:'Liberation Sans',sans-serif;font-weight:normal;font-size:13.96px;line-height:13.96px;letter-spacing:0.000px;color:#58585b;-webkit-text-stroke:0.41px #58585b;">quality</div>
<div class="t" style="left:402.70px;top:1316.13px;font-family:'Liberation Sans',sans-serif;font-weight:normal;font-size:13.96px;line-height:13.96px;letter-spacing:0.000px;color:#58585b;-webkit-text-stroke:0.41px #58585b;">Efficient</div>
<div class="t" style="left:403.00px;top:1341.43px;font-family:'Liberation Sans',sans-serif;font-weight:normal;font-size:13.96px;line-height:13.96px;letter-spacing:0.000px;color:#58585b;-webkit-text-stroke:0.41px #58585b;">Flexible</div>
<div class="t" style="left:400.70px;top:1366.63px;font-family:'Liberation Sans',sans-serif;font-weight:normal;font-size:13.96px;line-height:13.96px;letter-spacing:0.213px;color:#58585b;-webkit-text-stroke:0.41px #58585b;">Comprehensive</div>
<div class="t" style="left:874.70px;top:1144.99px;font-family:'Liberation Sans',sans-serif;font-weight:bold;font-size:17.39px;line-height:17.39px;letter-spacing:0.439px;color:#55555a;-webkit-text-stroke:0.45px #55555a;">25%</div>
<div class="t" style="left:889.60px;top:1293.19px;font-family:'Liberation Sans',sans-serif;font-weight:bold;font-size:17.39px;line-height:17.39px;letter-spacing:0.939px;color:#55555a;-webkit-text-stroke:0.45px #55555a;">18%</div>
<div class="t" style="left:771.30px;top:1346.09px;font-family:'Liberation Sans',sans-serif;font-weight:bold;font-size:17.39px;line-height:17.39px;letter-spacing:0.939px;color:#55555a;-webkit-text-stroke:0.45px #55555a;">19%</div>
<div class="t" style="left:684.20px;top:1283.09px;font-family:'Liberation Sans',sans-serif;font-weight:bold;font-size:17.39px;line-height:17.39px;letter-spacing:0.939px;color:#55555a;-webkit-text-stroke:0.45px #55555a;">11%</div>
<div class="t" style="left:674.00px;top:1203.79px;font-family:'Liberation Sans',sans-serif;font-weight:bold;font-size:17.39px;line-height:17.39px;letter-spacing:0.939px;color:#55555a;-webkit-text-stroke:0.45px #55555a;">11%</div>
<div class="t" style="left:713.90px;top:1142.79px;font-family:'Liberation Sans',sans-serif;font-weight:bold;font-size:17.39px;line-height:17.39px;letter-spacing:0.716px;color:#55555a;-webkit-text-stroke:0.45px #55555a;">8%</div>
<div class="t" style="left:748.35px;top:1120.69px;font-family:'Liberation Sans',sans-serif;font-weight:bold;font-size:17.39px;line-height:17.39px;letter-spacing:1.416px;color:#55555a;-webkit-text-stroke:0.45px #55555a;">3%</div>
<div class="t" style="left:777.65px;top:1112.09px;font-family:'Liberation Sans',sans-serif;font-weight:bold;font-size:17.39px;line-height:17.39px;letter-spacing:0.216px;color:#55555a;-webkit-text-stroke:0.45px #55555a;">5%</div>
</body></html>
